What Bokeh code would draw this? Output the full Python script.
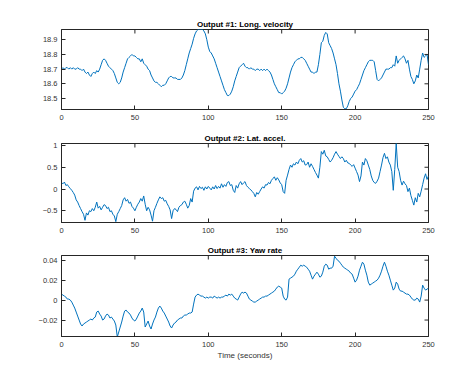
import math
from bokeh.plotting import figure
from bokeh.layouts import column
from bokeh.models import Range1d, FixedTicker
from bokeh.embed import file_html
from bokeh.resources import INLINE

# time in seconds (one sample per second)
t = list(range(251))

x_ticks = [0, 50, 100, 150, 200, 250]

vel = [
    18.70, 18.71, 18.70, 18.71, 18.71, 18.70, 18.71, 18.70, 18.71, 18.70,
    18.70, 18.71, 18.70, 18.70, 18.69, 18.70, 18.68, 18.67, 18.68, 18.66,
    18.65, 18.67, 18.68, 18.67, 18.69, 18.68, 18.70, 18.73, 18.76, 18.77,
    18.76, 18.74, 18.72, 18.71, 18.70, 18.69, 18.67, 18.64, 18.61, 18.60,
    18.61, 18.64, 18.68, 18.71, 18.74, 18.77, 18.78, 18.79, 18.80, 18.79,
    18.79, 18.78, 18.77, 18.77, 18.75, 18.77, 18.74, 18.73, 18.72, 18.70,
    18.69, 18.66, 18.64, 18.62, 18.61, 18.61, 18.60, 18.59, 18.58, 18.59,
    18.59, 18.60, 18.62, 18.64, 18.65, 18.65, 18.64, 18.64, 18.64, 18.63,
    18.63, 18.63, 18.64, 18.66, 18.69, 18.73, 18.77, 18.81, 18.84, 18.87,
    18.91, 18.94, 18.96, 18.97, 18.97, 18.97, 18.97, 18.96, 18.94, 18.90,
    18.85, 18.82, 18.81, 18.79, 18.77, 18.74, 18.71, 18.68, 18.65, 18.62,
    18.59, 18.56, 18.54, 18.52, 18.52, 18.53, 18.55, 18.58, 18.62, 18.65,
    18.68, 18.71, 18.72, 18.73, 18.74, 18.72, 18.71, 18.71, 18.70, 18.71,
    18.70, 18.70, 18.69, 18.70, 18.70, 18.69, 18.70, 18.69, 18.70, 18.69,
    18.70, 18.69, 18.68, 18.66, 18.63, 18.60, 18.58, 18.56, 18.54, 18.54,
    18.53, 18.54, 18.55, 18.57, 18.60, 18.64, 18.68, 18.71, 18.73, 18.75,
    18.76, 18.77, 18.77, 18.78, 18.78, 18.77, 18.76, 18.74, 18.72, 18.70,
    18.68, 18.68, 18.67, 18.68, 18.68, 18.73, 18.80, 18.88, 18.89, 18.93,
    18.95, 18.94, 18.88, 18.86, 18.84, 18.81, 18.77, 18.73, 18.67, 18.60,
    18.55, 18.49, 18.44, 18.43, 18.43, 18.45, 18.48, 18.50, 18.51, 18.53,
    18.55, 18.56, 18.58, 18.60, 18.63, 18.66, 18.69, 18.71, 18.73, 18.75,
    18.76, 18.76, 18.76, 18.75, 18.69, 18.63, 18.62, 18.63, 18.64, 18.66,
    18.68, 18.70, 18.70, 18.70, 18.71, 18.71, 18.73, 18.72, 18.79, 18.74,
    18.76, 18.77, 18.78, 18.79, 18.77, 18.74, 18.76, 18.70, 18.65, 18.63,
    18.60, 18.62, 18.66, 18.64, 18.70, 18.76, 18.81, 18.78, 18.79, 18.80,
    18.73,
]
vel_ticks = [18.5, 18.6, 18.7, 18.8, 18.9]

lat = [
    0.15, 0.12, 0.16, 0.08, 0.10, 0.05, 0.01, -0.03, -0.08, -0.14,
    -0.25, -0.30, -0.38, -0.45, -0.52, -0.58, -0.72, -0.55, -0.60, -0.50,
    -0.52, -0.45, -0.50, -0.42, -0.30, -0.44, -0.40, -0.48, -0.42, -0.36,
    -0.38, -0.45, -0.42, -0.52, -0.50, -0.58, -0.62, -0.75, -0.58, -0.52,
    -0.45, -0.38, -0.25, -0.20, -0.28, -0.24, -0.33, -0.30, -0.40, -0.44,
    -0.50, -0.42, -0.35, -0.30, -0.22, -0.28, -0.16, -0.35, -0.50, -0.42,
    -0.48, -0.60, -0.74, -0.50, -0.42, -0.33, -0.25, -0.18, -0.22, -0.20,
    -0.28, -0.26, -0.34, -0.40, -0.48, -0.68, -0.50, -0.45, -0.47, -0.52,
    -0.42, -0.38, -0.36, -0.30, -0.28, -0.35, -0.44, -0.38, -0.22, -0.30,
    -0.05, 0.02, 0.05, -0.02, 0.06, 0.01, 0.04, -0.03, 0.05, 0.00,
    0.06, 0.02, -0.02, 0.05, 0.00, 0.08, 0.01, 0.06, 0.02, 0.12,
    0.04, 0.10, 0.06, 0.15, 0.17, 0.08, 0.10, -0.03, -0.08, 0.08,
    0.02, 0.12, 0.17, 0.10, 0.14, 0.17, 0.08, 0.04, 0.01, -0.02,
    -0.06, -0.10, -0.18, -0.08, -0.12, -0.06, 0.00, 0.05, 0.02, 0.10,
    0.09, 0.15, 0.12, 0.20, 0.24, 0.28, 0.20, 0.26, 0.21, 0.14,
    0.10, -0.06, -0.10, 0.20, 0.32, 0.45, 0.55, 0.50, 0.58, 0.55,
    0.62, 0.58, 0.66, 0.70, 0.62, 0.65, 0.55, 0.56, 0.62, 0.50,
    0.58, 0.52, 0.45, 0.38, 0.32, 0.25, 0.50, 0.86, 0.80, 0.89,
    0.76, 0.74, 0.68, 0.62, 0.66, 0.72, 0.80, 0.86, 0.80, 0.75,
    0.70, 0.74, 0.70, 0.62, 0.66, 0.60, 0.59, 0.55, 0.52, 0.56,
    0.48, 0.40, 0.32, 0.17, 0.30, 0.62, 0.55, 0.70, 0.65, 0.55,
    0.45, 0.30, 0.20, 0.15, 0.13, 0.18, 0.25, 0.40, 0.55, 0.72,
    0.82, 0.70, 0.74, 0.62, 0.55, 0.40, -0.03, 0.45, 1.05, 0.50,
    0.40, 0.20, 0.09, 0.18, 0.12, 0.08, -0.06, 0.02, -0.15, -0.26,
    -0.37, -0.20, -0.30, -0.10, -0.18, -0.05, 0.10, 0.25, 0.35, 0.22,
    0.30,
]
lat_ticks = [-0.5, 0, 0.5, 1]

yaw = [
    0.006, 0.005, 0.004, 0.003, 0.001, 0.001, 0.000, -0.002, -0.005, -0.008,
    -0.012, -0.016, -0.020, -0.024, -0.026, -0.024, -0.023, -0.022, -0.021, -0.020,
    -0.019, -0.020, -0.018, -0.017, -0.012, -0.011, -0.014, -0.016, -0.020, -0.019,
    -0.016, -0.014, -0.015, -0.018, -0.017, -0.019, -0.021, -0.025, -0.037, -0.032,
    -0.027, -0.022, -0.016, -0.011, -0.010, -0.012, -0.013, -0.015, -0.018, -0.020,
    -0.021, -0.019, -0.016, -0.013, -0.011, -0.008, -0.012, -0.027, -0.024, -0.021,
    -0.026, -0.029, -0.024, -0.020, -0.017, -0.012, -0.008, -0.006, -0.008, -0.011,
    -0.013, -0.016, -0.019, -0.022, -0.026, -0.028, -0.025, -0.023, -0.022, -0.020,
    -0.019, -0.018, -0.018, -0.016, -0.015, -0.015, -0.014, -0.013, -0.013, -0.012,
    -0.004, 0.003, 0.005, 0.006, 0.005, 0.004, 0.004, 0.003, 0.002, 0.003,
    0.002, 0.003, 0.003, 0.002, 0.004, 0.003, 0.002, 0.003, 0.002, 0.003,
    0.003, 0.004, 0.005, 0.004, 0.006, 0.005, 0.006, 0.004, 0.002, 0.001,
    0.000, 0.003, 0.006, 0.008, 0.007, 0.008, 0.007, 0.004, 0.001, 0.000,
    -0.001, -0.002, -0.002, -0.001, 0.000, 0.001, 0.002, 0.003, 0.003, 0.004,
    0.004, 0.005, 0.006, 0.007, 0.008, 0.009, 0.011, 0.013, 0.014, 0.013,
    0.012, 0.004, 0.001, 0.000, 0.003, 0.021, 0.022, 0.023, 0.024, 0.026,
    0.029, 0.031, 0.033, 0.035, 0.034, 0.035, 0.034, 0.033, 0.031, 0.029,
    0.025, 0.021, 0.024, 0.026, 0.028, 0.026, 0.023, 0.024, 0.028, 0.034,
    0.036, 0.035, 0.031, 0.032, 0.032, 0.034, 0.044, 0.042, 0.040, 0.039,
    0.037, 0.035, 0.033, 0.032, 0.031, 0.030, 0.029, 0.027, 0.026, 0.022,
    0.018, 0.020, 0.024, 0.030, 0.034, 0.038, 0.036, 0.030, 0.025, 0.018,
    0.015, 0.016, 0.017, 0.018, 0.019, 0.020, 0.022, 0.025, 0.029, 0.034,
    0.038, 0.034, 0.029, 0.025, 0.020, 0.015, 0.010, 0.012, 0.018, 0.016,
    0.011, 0.009, 0.009, 0.008, 0.007, 0.006, 0.006, 0.005, 0.003, 0.001,
    0.000, 0.000, 0.002, 0.001, -0.002, 0.004, 0.015, 0.012, 0.010, 0.011,
    0.012,
]
yaw_ticks = [-0.02, 0, 0.02, 0.04]

titles = ["Output #1: Long. velocity", "Output #2: Lat. accel.", "Output #3: Yaw rate"]
x_label = "Time (seconds)"

LINE = "#0072BD"
AX = "#262626"
LBL = "#333333"
FONT = "Liberation Sans"
X0, X1 = 0, 250


def make_panel(values, yticks, ylo, yhi, title, height, top, bottom, xlabel=None, overrides=None):
    p = figure(width=474, height=height, x_range=Range1d(X0, X1), y_range=Range1d(ylo, yhi),
               output_backend="svg", toolbar_location=None,
               min_border_left=61, min_border_right=46, min_border_top=top, min_border_bottom=bottom,
               background_fill_color="white", border_fill_color="white")
    p.line(t, values, line_color=LINE, line_width=1)
    p.xgrid.visible = False
    p.ygrid.visible = False
    p.outline_line_color = AX
    p.outline_line_width = 1
    p.outline_line_alpha = 1

    for ax, ticks in ((p.xaxis[0], x_ticks), (p.yaxis[0], yticks)):
        ax.ticker = FixedTicker(ticks=ticks)
        ax.major_tick_in = 4
        ax.major_tick_out = 0
        ax.minor_tick_line_color = None
        ax.axis_line_color = AX
        ax.major_tick_line_color = AX
        ax.major_label_text_font = FONT
        ax.major_label_text_font_size = "7.5px"
        ax.major_label_text_color = LBL
    p.xaxis[0].major_label_standoff = 5
    p.yaxis[0].major_label_standoff = 4
    if overrides:
        p.yaxis[0].major_label_overrides = overrides
    if xlabel:
        p.xaxis[0].axis_label = xlabel
        p.xaxis[0].axis_label_text_font = FONT
        p.xaxis[0].axis_label_text_font_size = "8px"
        p.xaxis[0].axis_label_text_font_style = "normal"
        p.xaxis[0].axis_label_text_color = LBL
        p.xaxis[0].axis_label_standoff = 1

    # mirrored inward ticks on the top and right edges (box on)
    p.scatter(x_ticks, [yhi] * len(x_ticks), marker="dash", size=8, angle=math.pi / 2,
              line_color=AX, line_width=1)
    p.scatter([X1] * len(yticks), yticks, marker="dash", size=8,
              line_color=AX, line_width=1)

    p.title.text = title
    p.title.text_font = FONT
    p.title.text_font_size = "8px"
    p.title.text_font_style = "bold"
    p.title.text_color = "black"
    p.title.align = "center"
    p.title.standoff = 2
    return p


p1 = make_panel(vel, vel_ticks, 18.425, 18.97, titles[0], 129, 29, 20)
p2 = make_panel(lat, lat_ticks, -0.77, 1.046, titles[1], 113, 14, 20, overrides={0: "0", 1: "1"})
p3 = make_panel(yaw, yaw_ticks, -0.0365, 0.0447, titles[2], 128, 13, 34, xlabel=x_label, overrides={0: "0"})

layout = column(p1, p2, p3, spacing=0)
open("out.html", "w").write(file_html(layout, INLINE))
